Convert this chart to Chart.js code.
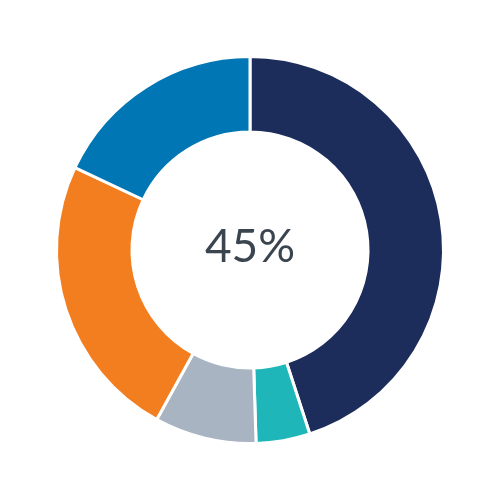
<!DOCTYPE html>
<html>
<head>
<meta charset="utf-8">
<script src="https://cdn.jsdelivr.net/npm/chart.js@4/dist/chart.umd.min.js"></script>
<style>
  html, body { margin: 0; padding: 0; background: #fff; }
  #wrap { width: 500px; height: 500px; }
</style>
</head>
<body>
<div id="wrap"><canvas id="donutChart"></canvas></div>
<script>
// Segments, clockwise from 12 o'clock
const labels = ['Navy', 'Teal', 'Grey', 'Orange', 'Blue'];
const values = [45, 4.5, 8.5, 24, 18];
const colors = ['#1c2c5b', '#1fb6b9', '#a9b4c3', '#f37e20', '#0076b5'];
const centerLabel = '45%';

// Draws the big number in the hole
const centerText = {
    id: 'centerText',
    afterDraw(chart) {
        const meta = chart.getDatasetMeta(0);
        if (!meta.data.length) return;
        const { x, y } = meta.data[0];
        const ctx = chart.ctx;
        ctx.save();
        ctx.font = '46px Lato';
        ctx.fillStyle = '#3b4550';
        ctx.textAlign = 'center';
        ctx.textBaseline = 'middle';
        ctx.fillText(centerLabel, x, y - 3);
        ctx.restore();
    },
};

const donutChart = new Chart(document.getElementById('donutChart').getContext('2d'), {
    type: 'doughnut',
    data: {
        labels: labels,
        datasets: [
            {
                data: values,
                backgroundColor: colors,
                borderColor: '#ffffff',
                borderWidth: 3,
            },
        ],
    },
    options: {
        responsive: true,
        maintainAspectRatio: false,
        animation: false,
        cutout: '61%',
        layout: { padding: 55 },
        plugins: {
            legend: { display: false },
            tooltip: { enabled: false },
        },
    },
    plugins: [centerText],
});
</script>
</body>
</html>
